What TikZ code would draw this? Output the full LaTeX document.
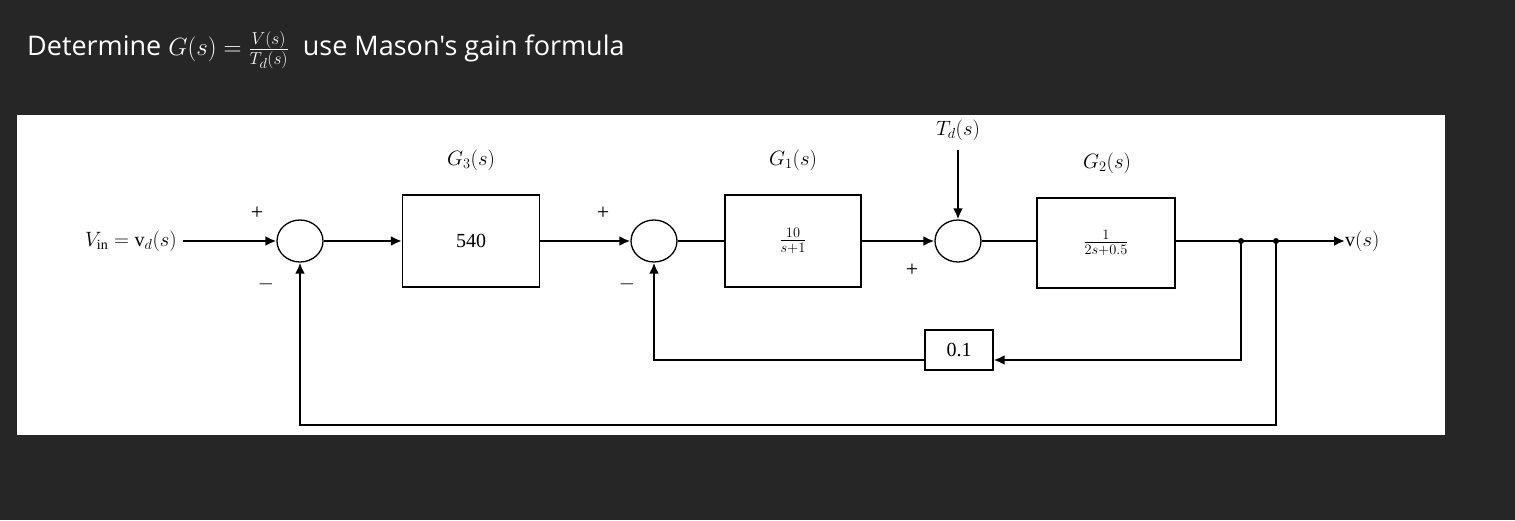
\documentclass[tikz,border=0pt]{standalone}
\usepackage{fontspec}
\setmainfont{Liberation Serif}
\newfontfamily\titlefont{Open Sans}
\usetikzlibrary{arrows.meta}
\definecolor{bgdark}{HTML}{262626}
\tikzset{
  sig/.style={line width=2.6pt,-{Latex[length=11pt,width=10pt]}},
  wire/.style={line width=2.6pt},
  blk/.style={draw,line width=1.3pt,minimum width=137pt,minimum height=92pt,font=\fontsize{20}{24}\selectfont,inner sep=0pt},
  summ/.style={draw,ellipse,line width=1.3pt,minimum width=46pt,minimum height=42pt,inner sep=0pt},
  lbl/.style={font=\fontsize{20}{24}\selectfont,inner sep=0pt},
  sgn/.style={font=\fontsize{22}{24}\selectfont,inner sep=0pt},
  dot/.style={circle,fill,inner sep=0pt,minimum size=6pt}
}
\usetikzlibrary{shapes.geometric}
\begin{document}
\begin{tikzpicture}[x=1pt,y=-1pt]
\useasboundingbox (0,0) rectangle (1515,520);
\fill[bgdark] (0,0) rectangle (1515,520);
\fill[white] (17,115) rectangle (1445,435);
\node[anchor=west,text=white,inner sep=0pt,font=\titlefont\fontsize{27}{30}\selectfont] (title) at (27,50)
  {Determine $G(s)=\frac{V(s)}{T_d(s)}$\ \ use Mason's gain formula};
% nodes
\node[lbl,anchor=east] (in) at (177,241) {$V_{\mathrm{in}}=\mathrm{v}_d(s)$};
\node[summ] (s1) at (300,241) {};
\node[blk] (g3) at (471,241) {540};
\node[summ] (s2) at (654,241) {};
\node[blk,minimum width=136pt] (g1) at (793,241) {$\frac{10}{s+1}$};
\node[summ] (s3) at (958,241) {};
\node[blk,minimum width=138pt,minimum height=90pt] (g2) at (1106,243) {$\frac{1}{2s+0.5}$};
\node[blk,minimum width=68pt,minimum height=40pt] (h) at (959,350) {0.1};
\node[lbl,anchor=west] (out) at (1345,241) {v$(s)$};
\node[lbl] (td) at (958,130) {$T_d(s)$};
\coordinate (tdtop) at (958,150);
\node[lbl] at (471,160) {$G_3(s)$};
\node[lbl] at (793,160) {$G_1(s)$};
\node[lbl] at (1107,163) {$G_2(s)$};
\node[sgn] at (257,213) {+};
\node[sgn] at (266,284) {$-$};
\node[sgn] at (603,213) {+};
\node[sgn] at (627,284) {$-$};
\node[sgn] at (912,270) {+};
\coordinate (b1) at (1241,241);
\coordinate (b2) at (1276,241);
\coordinate (c1) at (1241,360);
\coordinate (c2) at (1276,425);
% connectors
\draw[sig] (in.east)++(6,0) -- (s1.west);
\draw[sig] (s1.east) -- (g3.west);
\draw[sig] (g3.east) -- (s2.west);
\draw[wire] (s2.east) -- (g1.west);
\draw[sig] (g1.east) -- (s3.west);
\draw[sig] (tdtop) -- (s3.north);
\draw[wire] (s3.east) -- (g2.west |- s3.east);
\draw[sig] (g2.east |- b1) -- (out.west);
\draw[sig] (b1) -- (c1) -- (h.east |- c1);
\draw[sig] (h.west |- c1) -| (s2.south);
\draw[sig] (b2) -- (c2) -| (s1.south);
\node[dot] at (b1) {};
\node[dot] at (b2) {};
\end{tikzpicture}
\end{document}
